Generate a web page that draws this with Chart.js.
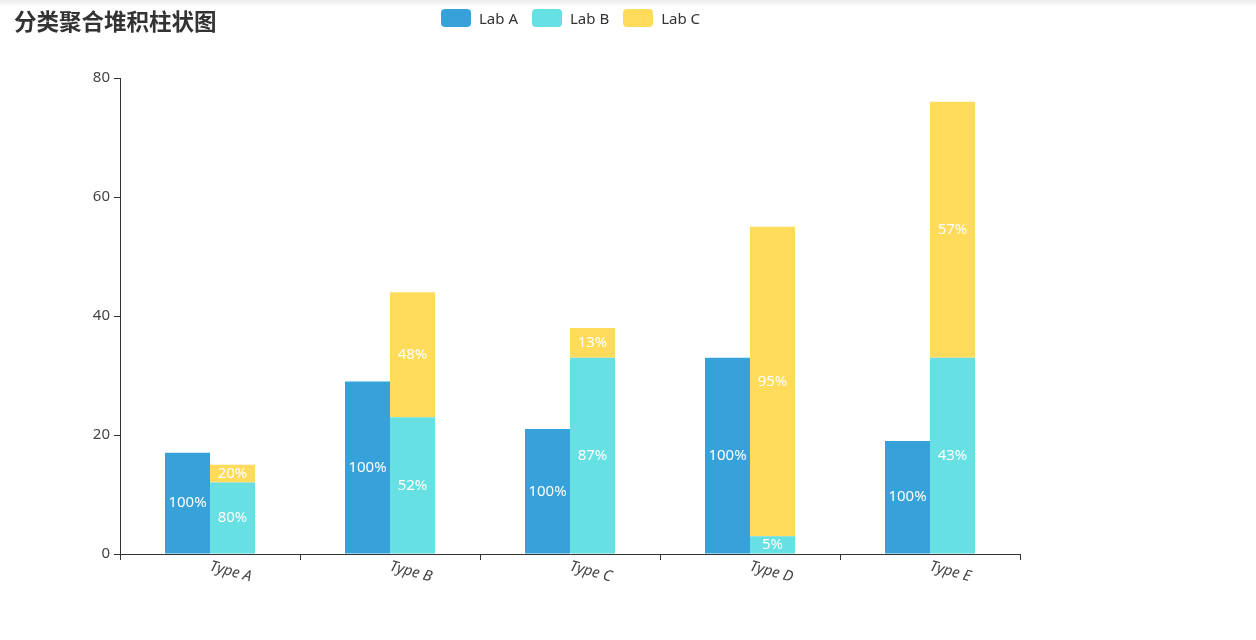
<!DOCTYPE html>
<html>
<head>
<meta charset="utf-8">
<script src="https://cdn.jsdelivr.net/npm/chart.js@4.4.1/dist/chart.umd.min.js"></script>
<style>
    html, body { margin: 0; padding: 0; background: #fff; }
    #wrap { position: relative; width: 1256px; height: 640px; overflow: hidden; }
    #topShade { position: absolute; left: 0; top: 0; width: 1256px; height: 7px;
        background: linear-gradient(#ececec, rgba(255,255,255,0)); }
    #title { position: absolute; left: 14px; top: 5px; font: bold 22.5px "Noto Sans CJK SC", sans-serif;
        color: #333; line-height: 30px; }
    #legend { position: absolute; top: 9px; left: 441px; display: flex; font: 15px "Noto Sans", sans-serif; color: #333; }
    .legend-item { display: flex; align-items: center; margin-right: 14px; height: 18px; }
    .legend-box { width: 30px; height: 18px; border-radius: 4px; margin-right: 8px; }
    canvas { position: absolute; left: 0; top: 0; }
</style>
</head>
<body>
<div id="wrap">
    <div id="topShade"></div>
    <canvas id="chartCanvas" width="1256" height="640"></canvas>
    <div id="title">分类聚合堆积柱状图</div>
    <div id="legend"></div>
</div>
<script>
const categories = ['Type A', 'Type B', 'Type C', 'Type D', 'Type E'];
const labA = [17, 29, 21, 33, 19];
const labB = [12, 23, 33, 3, 33];
const labC = [3, 21, 5, 52, 43];
const yTicks = [0, 20, 40, 60, 80];

const colors = ['#37A2DA', '#67E0E3', '#FFDB5C'];

// percent of each bar inside its own stack
function percentLabel(datasetIndex, i) {
    if (datasetIndex === 0) return '100%';
    const total = labB[i] + labC[i];
    const v = datasetIndex === 1 ? labB[i] : labC[i];
    return Math.round(v / total * 100) + '%';
}

const barLabels = {
    id: 'barLabels',
    afterDatasetsDraw(chart) {
        const ctx = chart.ctx;
        ctx.save();
        ctx.fillStyle = '#fff';
        ctx.font = '15px "Noto Sans", sans-serif';
        ctx.textAlign = 'center';
        ctx.textBaseline = 'middle';
        chart.data.datasets.forEach((ds, d) => {
            chart.getDatasetMeta(d).data.forEach((bar, i) => {
                ctx.fillText(percentLabel(d, i), bar.x, (bar.y + bar.base) / 2);
            });
        });
        ctx.restore();
    }
};

// x labels tilted clockwise
const tiltedLabels = {
    id: 'tiltedLabels',
    afterDraw(chart) {
        const ctx = chart.ctx;
        const xScale = chart.scales.x;
        ctx.save();
        ctx.fillStyle = '#444';
        ctx.font = 'italic 15px "Noto Sans", sans-serif';
        ctx.textAlign = 'left';
        ctx.textBaseline = 'top';
        categories.forEach((label, i) => {
            ctx.save();
            ctx.translate(xScale.getPixelForValue(i) + 2, xScale.top + 5);
            ctx.rotate(15 * Math.PI / 180);
            ctx.fillText(label, 0, 0);
            ctx.restore();
        });
        ctx.restore();
    }
};

const datasets = [
    { label: 'Lab A', data: labA, stack: 'a' },
    { label: 'Lab B', data: labB, stack: 'b' },
    { label: 'Lab C', data: labC, stack: 'b' }
].map((ds, i) => Object.assign(ds, {
    backgroundColor: colors[i],
    borderWidth: 0,
    categoryPercentage: 0.5,
    barPercentage: 1.0
}));

new Chart(document.getElementById('chartCanvas'), {
    type: 'bar',
    data: { labels: categories, datasets: datasets },
    options: {
        responsive: false,
        animation: false,
        layout: { padding: { top: 78, right: 236, left: 0, bottom: 0 } },
        plugins: {
            legend: { display: false },
            title: { display: false },
            tooltip: { enabled: false }
        },
        scales: {
            x: {
                stacked: true,
                offset: true,
                afterFit: scale => { scale.height = 86; },
                grid: { offset: true, drawOnChartArea: false, drawTicks: true, tickLength: 6, color: '#333' },
                border: { display: true, color: '#333', width: 1 },
                ticks: { display: false }
            },
            y: {
                stacked: true,
                min: 0,
                max: 80,
                afterFit: scale => { scale.width = 120; },
                afterBuildTicks: scale => { scale.ticks = yTicks.map(v => ({ value: v })); },
                grid: { drawOnChartArea: false, drawTicks: true, tickLength: 6, color: '#333' },
                border: { display: true, color: '#333', width: 1 },
                ticks: { color: '#444', padding: 4, font: { size: 15, family: '"Noto Sans", sans-serif' } }
            }
        }
    },
    plugins: [barLabels, tiltedLabels]
});

// html legend, centred over the plot like the original
const legend = document.getElementById('legend');
datasets.forEach(ds => {
    const item = document.createElement('div');
    item.className = 'legend-item';
    item.innerHTML = '<span class="legend-box" style="background:' + ds.backgroundColor + '"></span>' + ds.label;
    legend.appendChild(item);
});
</script>
</body>
</html>
